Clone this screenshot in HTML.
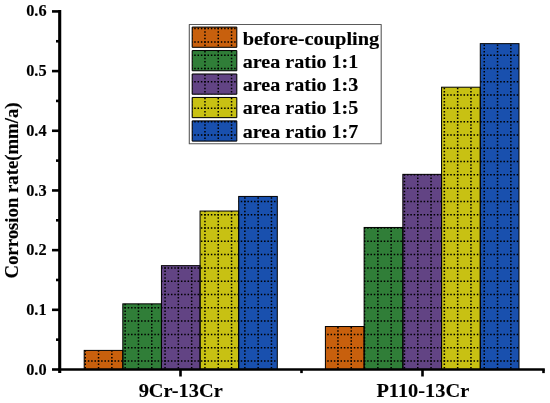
<!DOCTYPE html>
<html><head><meta charset="utf-8"><title>Corrosion rate chart</title>
<style>html,body{margin:0;padding:0;background:#fff}body{width:550px;height:403px;overflow:hidden}</style></head>
<body>
<svg width="550" height="403" viewBox="0 0 550 403" style="display:block">
<defs>
<clipPath id="barclip">
<rect x="84.20" y="350.40" width="38.62" height="19.10"/>
<rect x="122.82" y="303.85" width="38.62" height="65.65"/>
<rect x="161.44" y="265.66" width="38.62" height="103.84"/>
<rect x="200.06" y="211.05" width="38.62" height="158.45"/>
<rect x="238.68" y="196.43" width="38.62" height="173.07"/>
<rect x="325.40" y="326.53" width="38.72" height="42.97"/>
<rect x="364.12" y="227.46" width="38.72" height="142.04"/>
<rect x="402.84" y="174.35" width="38.72" height="195.15"/>
<rect x="441.56" y="87.21" width="38.72" height="282.29"/>
<rect x="480.28" y="43.65" width="38.72" height="325.85"/>
</clipPath>
<clipPath id="legclip">
<rect x="192.20" y="27.10" width="44.6" height="20.20"/>
<rect x="192.20" y="50.55" width="44.6" height="20.20"/>
<rect x="192.20" y="74.00" width="44.6" height="20.20"/>
<rect x="192.20" y="97.45" width="44.6" height="20.20"/>
<rect x="192.20" y="120.90" width="44.6" height="20.20"/>
</clipPath>
<g id="grid" stroke="#000" stroke-width="1.5" fill="none">
<g stroke-dasharray="1.5 1.8250">
<path d="M4.700 2.000H550"/>
<path d="M4.700 15.296H550"/>
<path d="M4.700 28.592H550"/>
<path d="M4.700 41.888H550"/>
<path d="M4.700 55.184H550"/>
<path d="M4.700 68.480H550"/>
<path d="M4.700 81.776H550"/>
<path d="M4.700 95.072H550"/>
<path d="M4.700 108.368H550"/>
<path d="M4.700 121.664H550"/>
<path d="M4.700 134.960H550"/>
<path d="M4.700 148.256H550"/>
<path d="M4.700 161.552H550"/>
<path d="M4.700 174.848H550"/>
<path d="M4.700 188.144H550"/>
<path d="M4.700 201.440H550"/>
<path d="M4.700 214.736H550"/>
<path d="M4.700 228.032H550"/>
<path d="M4.700 241.328H550"/>
<path d="M4.700 254.624H550"/>
<path d="M4.700 267.920H550"/>
<path d="M4.700 281.216H550"/>
<path d="M4.700 294.512H550"/>
<path d="M4.700 307.808H550"/>
<path d="M4.700 321.104H550"/>
<path d="M4.700 334.400H550"/>
<path d="M4.700 347.696H550"/>
<path d="M4.700 360.992H550"/>
<path d="M4.700 374.288H550"/>
<path d="M4.700 387.584H550"/>
<path d="M4.700 400.880H550"/>
</g>
<g stroke-dasharray="1.5 1.8240">
<path d="M5.450 1.250V403"/>
<path d="M18.750 1.250V403"/>
<path d="M32.050 1.250V403"/>
<path d="M45.350 1.250V403"/>
<path d="M58.650 1.250V403"/>
<path d="M71.950 1.250V403"/>
<path d="M85.250 1.250V403"/>
<path d="M98.550 1.250V403"/>
<path d="M111.850 1.250V403"/>
<path d="M125.150 1.250V403"/>
<path d="M138.450 1.250V403"/>
<path d="M151.750 1.250V403"/>
<path d="M165.050 1.250V403"/>
<path d="M178.350 1.250V403"/>
<path d="M191.650 1.250V403"/>
<path d="M204.950 1.250V403"/>
<path d="M218.250 1.250V403"/>
<path d="M231.550 1.250V403"/>
<path d="M244.850 1.250V403"/>
<path d="M258.150 1.250V403"/>
<path d="M271.450 1.250V403"/>
<path d="M284.750 1.250V403"/>
<path d="M298.050 1.250V403"/>
<path d="M311.350 1.250V403"/>
<path d="M324.650 1.250V403"/>
<path d="M337.950 1.250V403"/>
<path d="M351.250 1.250V403"/>
<path d="M364.550 1.250V403"/>
<path d="M377.850 1.250V403"/>
<path d="M391.150 1.250V403"/>
<path d="M404.450 1.250V403"/>
<path d="M417.750 1.250V403"/>
<path d="M431.050 1.250V403"/>
<path d="M444.350 1.250V403"/>
<path d="M457.650 1.250V403"/>
<path d="M470.950 1.250V403"/>
<path d="M484.250 1.250V403"/>
<path d="M497.550 1.250V403"/>
<path d="M510.850 1.250V403"/>
<path d="M524.150 1.250V403"/>
<path d="M537.450 1.250V403"/>
</g>
</g>
</defs>
<rect width="550" height="403" fill="#fff"/>
<rect x="84.20" y="350.40" width="38.62" height="19.10" fill="#c8600d"/>
<rect x="122.82" y="303.85" width="38.62" height="65.65" fill="#307e38"/>
<rect x="161.44" y="265.66" width="38.62" height="103.84" fill="#624484"/>
<rect x="200.06" y="211.05" width="38.62" height="158.45" fill="#c8c113"/>
<rect x="238.68" y="196.43" width="38.62" height="173.07" fill="#1950ae"/>
<rect x="325.40" y="326.53" width="38.72" height="42.97" fill="#c8600d"/>
<rect x="364.12" y="227.46" width="38.72" height="142.04" fill="#307e38"/>
<rect x="402.84" y="174.35" width="38.72" height="195.15" fill="#624484"/>
<rect x="441.56" y="87.21" width="38.72" height="282.29" fill="#c8c113"/>
<rect x="480.28" y="43.65" width="38.72" height="325.85" fill="#1950ae"/>
<use href="#grid" clip-path="url(#barclip)"/>
<rect x="84.20" y="350.40" width="38.62" height="19.10" fill="none" stroke="#000" stroke-width="1"/>
<rect x="122.82" y="303.85" width="38.62" height="65.65" fill="none" stroke="#000" stroke-width="1"/>
<rect x="161.44" y="265.66" width="38.62" height="103.84" fill="none" stroke="#000" stroke-width="1"/>
<rect x="200.06" y="211.05" width="38.62" height="158.45" fill="none" stroke="#000" stroke-width="1"/>
<rect x="238.68" y="196.43" width="38.62" height="173.07" fill="none" stroke="#000" stroke-width="1"/>
<rect x="325.40" y="326.53" width="38.72" height="42.97" fill="none" stroke="#000" stroke-width="1"/>
<rect x="364.12" y="227.46" width="38.72" height="142.04" fill="none" stroke="#000" stroke-width="1"/>
<rect x="402.84" y="174.35" width="38.72" height="195.15" fill="none" stroke="#000" stroke-width="1"/>
<rect x="441.56" y="87.21" width="38.72" height="282.29" fill="none" stroke="#000" stroke-width="1"/>
<rect x="480.28" y="43.65" width="38.72" height="325.85" fill="none" stroke="#000" stroke-width="1"/>
<g stroke="#000" stroke-width="2.6" fill="none">
<path d="M59.7 10.12V373.00" stroke-width="3.1"/>
<path d="M58.2 369.5H544.8"/>
<path d="M52 369.50H59.5"/>
<path d="M52 309.82H59.5"/>
<path d="M52 250.14H59.5"/>
<path d="M52 190.46H59.5"/>
<path d="M52 130.78H59.5"/>
<path d="M52 71.10H59.5"/>
<path d="M52 11.42H59.5"/>
<path d="M56.0 339.66H59.5"/>
<path d="M56.0 279.98H59.5"/>
<path d="M56.0 220.30H59.5"/>
<path d="M56.0 160.62H59.5"/>
<path d="M56.0 100.94H59.5"/>
<path d="M56.0 41.26H59.5"/>
<path d="M180.5 369.5V376.5"/>
<path d="M422.5 369.5V376.5"/>
<path d="M301.5 369.5V373.1"/>
<path d="M543.5 369.5V373.1"/>
</g>
<g font-family="'Liberation Serif', 'Times New Roman', serif" font-weight="bold" fill="#000" stroke="#000" stroke-width="0.12" stroke-linejoin="round">
<text transform="translate(46.55 374.55) scale(1.02 1)" font-size="16.0" text-anchor="end">0.0</text>
<text transform="translate(46.55 314.87) scale(1.02 1)" font-size="16.0" text-anchor="end">0.1</text>
<text transform="translate(46.55 255.19) scale(1.02 1)" font-size="16.0" text-anchor="end">0.2</text>
<text transform="translate(46.55 195.51) scale(1.02 1)" font-size="16.0" text-anchor="end">0.3</text>
<text transform="translate(46.55 135.83) scale(1.02 1)" font-size="16.0" text-anchor="end">0.4</text>
<text transform="translate(46.55 76.15) scale(1.02 1)" font-size="16.0" text-anchor="end">0.5</text>
<text transform="translate(46.55 16.47) scale(1.02 1)" font-size="16.0" text-anchor="end">0.6</text>
<text transform="translate(180.70 396.60) scale(1.095 1)" font-size="18.6" text-anchor="middle">9Cr-13Cr</text>
<text transform="translate(422.80 396.60) scale(1.095 1)" font-size="18.6" text-anchor="middle">P110-13Cr</text>
<text transform="translate(18.30 190.50) rotate(-90) scale(1.03 1)" font-size="18.2" text-anchor="middle">Corrosion rate(mm/a)</text>
<rect x="189.3" y="24.5" width="191.9" height="119.3" fill="#fff" stroke="#5a5a5a" stroke-width="1.1"/>
<rect x="192.20" y="27.10" width="44.6" height="20.20" fill="#c8600d"/>
<rect x="192.20" y="50.55" width="44.6" height="20.20" fill="#307e38"/>
<rect x="192.20" y="74.00" width="44.6" height="20.20" fill="#624484"/>
<rect x="192.20" y="97.45" width="44.6" height="20.20" fill="#c8c113"/>
<rect x="192.20" y="120.90" width="44.6" height="20.20" fill="#1950ae"/>
<use href="#grid" clip-path="url(#legclip)"/>
<rect x="192.20" y="27.10" width="44.6" height="20.20" fill="none" stroke="#000" stroke-width="1"/>
<text transform="translate(242.70 44.50) scale(1.145 1)" font-size="17.8" text-anchor="start">before-coupling</text>
<rect x="192.20" y="50.55" width="44.6" height="20.20" fill="none" stroke="#000" stroke-width="1"/>
<text transform="translate(242.70 67.80) scale(1.128 1)" font-size="17.8" text-anchor="start">area ratio 1:1</text>
<rect x="192.20" y="74.00" width="44.6" height="20.20" fill="none" stroke="#000" stroke-width="1"/>
<text transform="translate(242.70 91.10) scale(1.128 1)" font-size="17.8" text-anchor="start">area ratio 1:3</text>
<rect x="192.20" y="97.45" width="44.6" height="20.20" fill="none" stroke="#000" stroke-width="1"/>
<text transform="translate(242.70 114.40) scale(1.128 1)" font-size="17.8" text-anchor="start">area ratio 1:5</text>
<rect x="192.20" y="120.90" width="44.6" height="20.20" fill="none" stroke="#000" stroke-width="1"/>
<text transform="translate(242.70 137.70) scale(1.128 1)" font-size="17.8" text-anchor="start">area ratio 1:7</text>
</g>
</svg>
</body></html>
